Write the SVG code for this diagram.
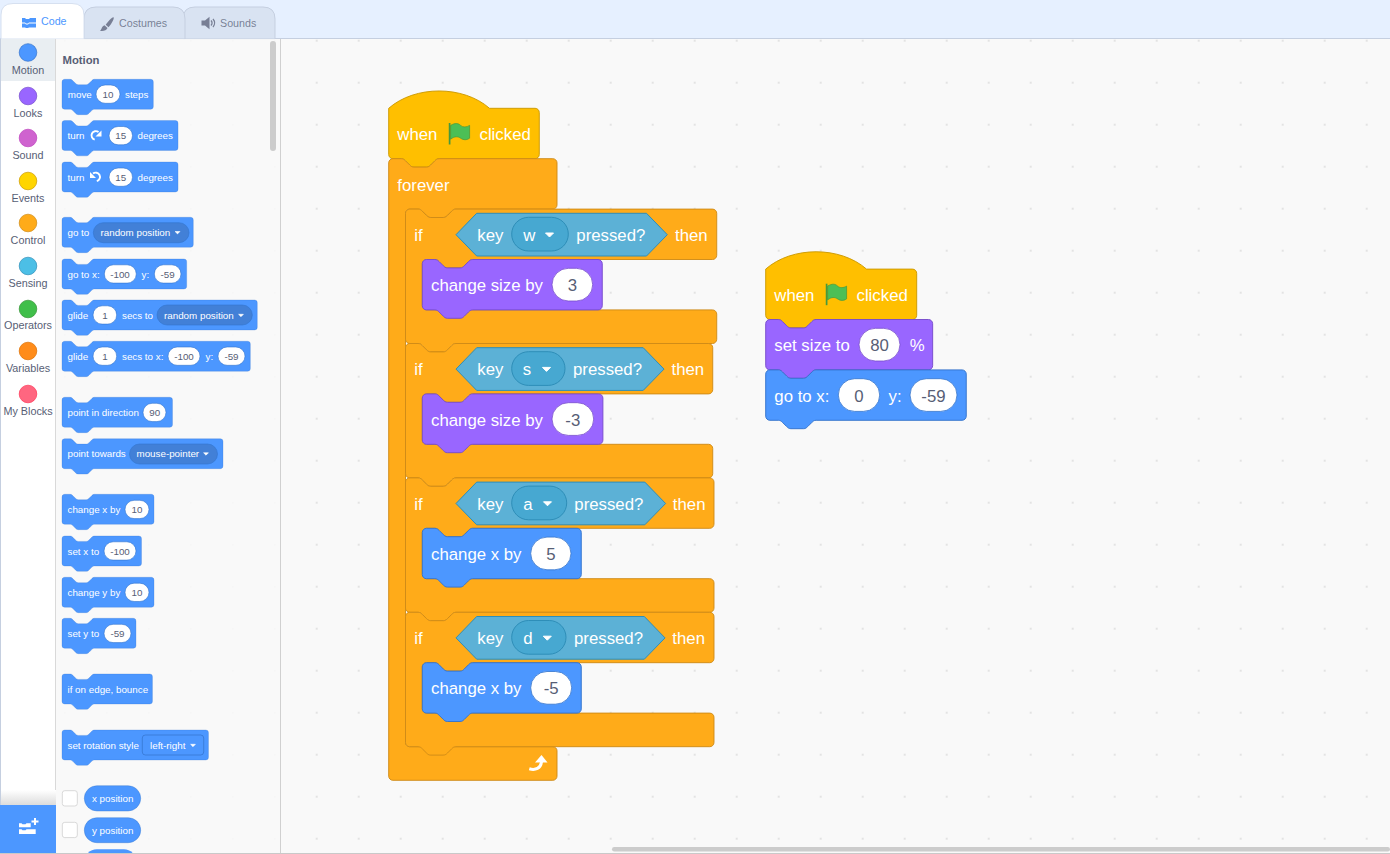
<svg xmlns="http://www.w3.org/2000/svg" xmlns:xlink="http://www.w3.org/1999/xlink" width="1390" height="854" viewBox="0 0 1390 854">
<style>
text{font-family:"Liberation Sans",Arial,sans-serif}
.w{font-size:16.8px;fill:#fff}
.wi{font-size:16.8px;fill:#575e75;text-anchor:middle}
.p{font-size:9.8px;fill:#fff}
.pi{font-size:9.8px;fill:#575e75;text-anchor:middle}
.cat{font-size:10.8px;fill:#575e75;text-anchor:middle}
.tab{font-size:10.7px;fill:#575e75;fill-opacity:.75}
.blue{fill:#4c97ff;stroke:#3373cc;stroke-width:.9}
.pblue{fill:#4c97ff;stroke:#3373cc;stroke-width:.7;stroke-opacity:.55}
.purple{fill:#9966ff;stroke:#774dcb;stroke-width:.9}
.orange{fill:#ffab19;stroke:#cf8b17;stroke-width:.9}
.hat{fill:#ffbf00;stroke:#cc9900;stroke-width:.9}
.hex{fill:#5cb1d6;stroke:#2e8eb8;stroke-width:1}
.dd{fill:#47a8d1;stroke:#2e8eb8;stroke-width:1}
.pdd{fill:#4280d7;stroke:#3373cc;stroke-width:.6}
.oval{fill:#fff;stroke:#3373cc;stroke-width:.6}
.ovalp{fill:#fff;stroke:#774dcb;stroke-width:.8}
.ovalb{fill:#fff;stroke:#3373cc;stroke-width:.8}
.tri{fill:#fff;stroke:#fff;stroke-linejoin:round}
</style>
<defs>
<pattern id="grid" x="14.7" y="32.7" width="42" height="42" patternUnits="userSpaceOnUse"><circle cx="8" cy="8" r="1" fill="#dcdcdc"/></pattern>
<linearGradient id="fade" x1="0" y1="0" x2="0" y2="1"><stop offset="0" stop-color="#fff"/><stop offset="1" stop-color="#dcdcdc"/></linearGradient>
<path id="tri" class="tri" d="M-4-2h8l-4 4z"/>
<g id="flag"><path d="M450.600 125.400c5-3 8-2 10 0s6 2 9 0v12.800c-3 2-6 2-9 0s-6-2-10 1z" fill="#4cbf56" stroke="#45993d" stroke-width=".7"/><path d="M449.600 123v21.500" stroke="#45993d" stroke-width="1.700" fill="none"/></g>
<g id="cw"><path d="M-1.800 3.600a4.300 4.300 0 1 1 3.800-7.500" fill="none" stroke="#fff" stroke-width="1.900" transform="translate(1 0)"/><path d="M6-5.500v6h-6z" fill="#fff"/></g>
</defs>
<rect width="1390" height="854" fill="#f9f9f9"/>
<rect x="56" y="39" width="1334" height="815" fill="url(#grid)"/>
<g id="topbar">
<rect width="1390" height="39" fill="#e6f0ff"/>
<path d="M0 38.500H1390" stroke="#c5cfe0" stroke-width="1"/>
</g>
<g id="tab-sounds"><path d="M183 39V19Q183 7 195 7H263Q275 7 275 19V39z" fill="#d9e3f2" stroke="#c5cfe0"/>
<path d="M201.500 20.500h3.500l4.500-3.800v12.600l-4.500-3.800h-3.500z" fill="#575e75" fill-opacity=".75"/><path d="M211 20.500a3.500 3.500 0 0 1 0 5M213 19a6 6 0 0 1 0 8" fill="none" stroke="#575e75" stroke-opacity=".75" stroke-width="1.300"/>
<text class="tab" x="220" y="27">Sounds</text></g>
<g id="tab-costumes"><path d="M84 39V19Q84 7 96 7H173Q185 7 185 19V39z" fill="#d9e3f2" stroke="#c5cfe0"/>
<path d="M113.500 17.300c1.200 .7-1.500 6.200-5 10l-2.800-2.500c2.500-3.500 6.500-8 7.800-7.500zM104.500 25.300l3 2.700c-.8 2.300-4.500 3.500-7.500 2.700 1.800-1 1.800-4.700 4.500-5.400z" fill="#575e75" fill-opacity=".75"/>
<text class="tab" x="119" y="27">Costumes</text></g>
<g id="tab-code"><path d="M1 39V15Q1 3.500 13 3.500H72Q84 3.500 84 15V39z" fill="#fff" stroke="#d6e0f0"/>
<path d="M22 18h3l1 1h3l1-1h6v4.500h-7l-1 1h-2l-1-1h-3zM22 23.500h3l1 1h2l1-1h7v4h-7l-1 .5h-2l-1-.5h-3z" fill="#4c97ff"/>
<text x="41" y="25" font-size="10.700" fill="#4c97ff">Code</text></g>
<g id="palette">
<rect x="56" y="39" width="224" height="815" fill="#f9f9f9" fill-opacity=".85"/>
<path d="M280.500 39V854" stroke="#d0d0d0"/>
<text x="62.500" y="64" font-size="11.300" font-weight="700" fill="#575e75">Motion</text>
<rect x="270" y="41" width="6" height="110" rx="3" fill="#ccc"/>
</g>
<g id="categories">
<rect x="1" y="39" width="54.500" height="815" fill="#fff"/>
<rect x="1" y="39" width="54.500" height="42" fill="#e9eef2"/>
<path d="M.5 39V854" stroke="#c5cfe0"/><path d="M55.500 39V854" stroke="#d9d9d9"/>
<g id="cat-motion"><circle cx="28" cy="52.500" r="8.800" fill="#4c97ff" stroke="#3373cc" stroke-width=".7"/><text class="cat" x="28" y="74">Motion</text></g>
<g id="cat-looks"><circle cx="28" cy="96" r="8.800" fill="#9966ff" stroke="#774dcb" stroke-width=".7"/><text class="cat" x="28" y="117">Looks</text></g>
<g id="cat-sound"><circle cx="28" cy="138" r="8.800" fill="#cf63cf" stroke="#bd42bd" stroke-width=".7"/><text class="cat" x="28" y="159">Sound</text></g>
<g id="cat-events"><circle cx="28" cy="181" r="8.800" fill="#ffd500" stroke="#cc9900" stroke-width=".7"/><text class="cat" x="28" y="202">Events</text></g>
<g id="cat-control"><circle cx="28" cy="223" r="8.800" fill="#ffab19" stroke="#cf8b17" stroke-width=".7"/><text class="cat" x="28" y="244">Control</text></g>
<g id="cat-sensing"><circle cx="28" cy="266" r="8.800" fill="#4cbfe6" stroke="#2e8eb8" stroke-width=".7"/><text class="cat" x="28" y="287">Sensing</text></g>
<g id="cat-operators"><circle cx="28" cy="309" r="8.800" fill="#40bf4a" stroke="#389438" stroke-width=".7"/><text class="cat" x="28" y="329">Operators</text></g>
<g id="cat-variables"><circle cx="28" cy="351" r="8.800" fill="#ff8c1a" stroke="#db6e00" stroke-width=".7"/><text class="cat" x="28" y="372">Variables</text></g>
<g id="cat-myblocks"><circle cx="28" cy="394" r="8.800" fill="#ff6680" stroke="#ff3355" stroke-width=".7"/><text class="cat" x="28" y="415">My Blocks</text></g>
<rect x="1" y="790" width="55" height="15" fill="url(#fade)"/>
<g id="extensions"><rect x="0" y="805" width="56" height="49" fill="#4c97ff"/>
<path d="M19 823.300h2.500l1 1h3l1-1h4.200v4h-11.700zM19 829.300h2.500l1 1h3l1-1h9.200v4.700h-16.700zM34 818h2v2.500h2.500v2h-2.500v2.500h-2v-2.500h-2.500v-2h2.500z" fill="#fff"/></g>
</g>
<g id="palette-blocks">
<g id="p-move"><path class="pblue" transform="translate(62 79.300) scale(.675)" d="M0 4a4 4 0 0 1 4-4h8c2 0 3 1 4 2l4 4c1 1 2 2 4 2h12c2 0 3-1 4-2l4-4c1-1 2-2 4-2H131.300a4 4 0 0 1 4 4V40.400a4 4 0 0 1-4 4H48c-2 0-3 1-4 2l-4 4c-1 1-2 2-4 2H24c-2 0-3-1-4-2l-4-4c-1-1-2-2-4-2H4a4 4 0 0 1-4-4z"/><text class="p" x="67.800" y="98.300">move</text><rect class="oval" x="96" y="85" width="24" height="18.300" rx="9.150"/><text class="pi" x="108" y="98">10</text><text class="p" x="125" y="98.300">steps</text></g>
<g id="p-turn-cw"><path class="pblue" transform="translate(62 120.500) scale(.675)" d="M0 4a4 4 0 0 1 4-4h8c2 0 3 1 4 2l4 4c1 1 2 2 4 2h12c2 0 3-1 4-2l4-4c1-1 2-2 4-2H167.900a4 4 0 0 1 4 4V40.400a4 4 0 0 1-4 4H48c-2 0-3 1-4 2l-4 4c-1 1-2 2-4 2H24c-2 0-3-1-4-2l-4-4c-1-1-2-2-4-2H4a4 4 0 0 1-4-4z"/><text class="p" x="67.500" y="139.300">turn</text><use href="#cw" xlink:href="#cw" transform="translate(95.500 136)"/><rect class="oval" x="109" y="126.500" width="23.500" height="18.300" rx="9.150"/><text class="pi" x="120.700" y="139">15</text><text class="p" x="137.500" y="139.300">degrees</text></g>
<g id="p-turn-ccw"><path class="pblue" transform="translate(62 162) scale(.675)" d="M0 4a4 4 0 0 1 4-4h8c2 0 3 1 4 2l4 4c1 1 2 2 4 2h12c2 0 3-1 4-2l4-4c1-1 2-2 4-2H167.900a4 4 0 0 1 4 4V40.400a4 4 0 0 1-4 4H48c-2 0-3 1-4 2l-4 4c-1 1-2 2-4 2H24c-2 0-3-1-4-2l-4-4c-1-1-2-2-4-2H4a4 4 0 0 1-4-4z"/><text class="p" x="67.500" y="181">turn</text><use href="#cw" xlink:href="#cw" transform="translate(96 177.500) scale(-1 1)"/><rect class="oval" x="109" y="168" width="23.500" height="18.300" rx="9.150"/><text class="pi" x="120.700" y="180.800">15</text><text class="p" x="137.500" y="181">degrees</text></g>
<g id="p-goto"><path class="pblue" transform="translate(62 217.300) scale(.675)" d="M0 4a4 4 0 0 1 4-4h8c2 0 3 1 4 2l4 4c1 1 2 2 4 2h12c2 0 3-1 4-2l4-4c1-1 2-2 4-2H190.500a4 4 0 0 1 4 4V40.400a4 4 0 0 1-4 4H48c-2 0-3 1-4 2l-4 4c-1 1-2 2-4 2H24c-2 0-3-1-4-2l-4-4c-1-1-2-2-4-2H4a4 4 0 0 1-4-4z"/><text class="p" x="67.500" y="236">go to</text><rect class="pdd" x="93.300" y="222.700" width="95.700" height="20" rx="10"/><text class="p" x="100.500" y="236">random position</text><use href="#tri" xlink:href="#tri" transform="translate(177.500 232.700) scale(.6)"/></g>
<g id="p-gotoxy"><path class="pblue" transform="translate(62 259) scale(.675)" d="M0 4a4 4 0 0 1 4-4h8c2 0 3 1 4 2l4 4c1 1 2 2 4 2h12c2 0 3-1 4-2l4-4c1-1 2-2 4-2H180.700a4 4 0 0 1 4 4V40.400a4 4 0 0 1-4 4H48c-2 0-3 1-4 2l-4 4c-1 1-2 2-4 2H24c-2 0-3-1-4-2l-4-4c-1-1-2-2-4-2H4a4 4 0 0 1-4-4z"/><text class="p" x="67.500" y="278">go to x:</text><rect class="oval" x="104.300" y="264.800" width="32" height="18.300" rx="9.150"/><text class="pi" x="120" y="278">-100</text><text class="p" x="141.500" y="278">y:</text><rect class="oval" x="154.300" y="264.800" width="26.700" height="18.300" rx="9.150"/><text class="pi" x="167.600" y="278">-59</text></g>
<g id="p-glide"><path class="pblue" transform="translate(62 300) scale(.675)" d="M0 4a4 4 0 0 1 4-4h8c2 0 3 1 4 2l4 4c1 1 2 2 4 2h12c2 0 3-1 4-2l4-4c1-1 2-2 4-2H285.300a4 4 0 0 1 4 4V40.400a4 4 0 0 1-4 4H48c-2 0-3 1-4 2l-4 4c-1 1-2 2-4 2H24c-2 0-3-1-4-2l-4-4c-1-1-2-2-4-2H4a4 4 0 0 1-4-4z"/><text class="p" x="67.500" y="319">glide</text><rect class="oval" x="93" y="305.800" width="23.700" height="18.300" rx="9.150"/><text class="pi" x="105" y="319">1</text><text class="p" x="122" y="319">secs to</text><rect class="pdd" x="157" y="305" width="95.300" height="20" rx="10"/><text class="p" x="164" y="319">random position</text><use href="#tri" xlink:href="#tri" transform="translate(241 315.500) scale(.6)"/></g>
<g id="p-glidexy"><path class="pblue" transform="translate(62 341.300) scale(.675)" d="M0 4a4 4 0 0 1 4-4h8c2 0 3 1 4 2l4 4c1 1 2 2 4 2h12c2 0 3-1 4-2l4-4c1-1 2-2 4-2H275a4 4 0 0 1 4 4V40.400a4 4 0 0 1-4 4H48c-2 0-3 1-4 2l-4 4c-1 1-2 2-4 2H24c-2 0-3-1-4-2l-4-4c-1-1-2-2-4-2H4a4 4 0 0 1-4-4z"/><text class="p" x="67.500" y="360">glide</text><rect class="oval" x="93" y="347" width="23.700" height="18.300" rx="9.150"/><text class="pi" x="105" y="360">1</text><text class="p" x="122" y="360">secs to x:</text><rect class="oval" x="168" y="347" width="32" height="18.300" rx="9.150"/><text class="pi" x="184" y="360">-100</text><text class="p" x="205.500" y="360">y:</text><rect class="oval" x="218" y="347" width="27" height="18.300" rx="9.150"/><text class="pi" x="231.500" y="360">-59</text></g>
<g id="p-pointdir"><path class="pblue" transform="translate(62 397.300) scale(.675)" d="M0 4a4 4 0 0 1 4-4h8c2 0 3 1 4 2l4 4c1 1 2 2 4 2h12c2 0 3-1 4-2l4-4c1-1 2-2 4-2H159.700a4 4 0 0 1 4 4V40.400a4 4 0 0 1-4 4H48c-2 0-3 1-4 2l-4 4c-1 1-2 2-4 2H24c-2 0-3-1-4-2l-4-4c-1-1-2-2-4-2H4a4 4 0 0 1-4-4z"/><text class="p" x="67.500" y="416">point in direction</text><rect class="oval" x="143" y="403.300" width="23" height="18.300" rx="9.150"/><text class="pi" x="154.800" y="416">90</text></g>
<g id="p-pointto"><path class="pblue" transform="translate(62 438.700) scale(.675)" d="M0 4a4 4 0 0 1 4-4h8c2 0 3 1 4 2l4 4c1 1 2 2 4 2h12c2 0 3-1 4-2l4-4c1-1 2-2 4-2H234.500a4 4 0 0 1 4 4V40.400a4 4 0 0 1-4 4H48c-2 0-3 1-4 2l-4 4c-1 1-2 2-4 2H24c-2 0-3-1-4-2l-4-4c-1-1-2-2-4-2H4a4 4 0 0 1-4-4z"/><text class="p" x="67.500" y="457.300">point towards</text><rect class="pdd" x="129.500" y="444" width="88" height="20" rx="10"/><text class="p" x="136.500" y="457.300">mouse-pointer</text><use href="#tri" xlink:href="#tri" transform="translate(206 454) scale(.6)"/></g>
<g id="p-changex"><path class="pblue" transform="translate(62 494.300) scale(.675)" d="M0 4a4 4 0 0 1 4-4h8c2 0 3 1 4 2l4 4c1 1 2 2 4 2h12c2 0 3-1 4-2l4-4c1-1 2-2 4-2H132.300a4 4 0 0 1 4 4V40.400a4 4 0 0 1-4 4H48c-2 0-3 1-4 2l-4 4c-1 1-2 2-4 2H24c-2 0-3-1-4-2l-4-4c-1-1-2-2-4-2H4a4 4 0 0 1-4-4z"/><text class="p" x="67.500" y="513.300">change x by</text><rect class="oval" x="125" y="500.300" width="24" height="18.300" rx="9.150"/><text class="pi" x="137" y="513.300">10</text></g>
<g id="p-setx"><path class="pblue" transform="translate(62 536) scale(.675)" d="M0 4a4 4 0 0 1 4-4h8c2 0 3 1 4 2l4 4c1 1 2 2 4 2h12c2 0 3-1 4-2l4-4c1-1 2-2 4-2H113.800a4 4 0 0 1 4 4V40.400a4 4 0 0 1-4 4H48c-2 0-3 1-4 2l-4 4c-1 1-2 2-4 2H24c-2 0-3-1-4-2l-4-4c-1-1-2-2-4-2H4a4 4 0 0 1-4-4z"/><text class="p" x="67.500" y="555">set x to</text><rect class="oval" x="104" y="541.800" width="32" height="18.300" rx="9.150"/><text class="pi" x="120" y="555">-100</text></g>
<g id="p-changey"><path class="pblue" transform="translate(62 577.300) scale(.675)" d="M0 4a4 4 0 0 1 4-4h8c2 0 3 1 4 2l4 4c1 1 2 2 4 2h12c2 0 3-1 4-2l4-4c1-1 2-2 4-2H132.300a4 4 0 0 1 4 4V40.400a4 4 0 0 1-4 4H48c-2 0-3 1-4 2l-4 4c-1 1-2 2-4 2H24c-2 0-3-1-4-2l-4-4c-1-1-2-2-4-2H4a4 4 0 0 1-4-4z"/><text class="p" x="67.500" y="596.300">change y by</text><rect class="oval" x="125" y="583.200" width="24" height="18.300" rx="9.150"/><text class="pi" x="137" y="596.300">10</text></g>
<g id="p-sety"><path class="pblue" transform="translate(62 618.300) scale(.675)" d="M0 4a4 4 0 0 1 4-4h8c2 0 3 1 4 2l4 4c1 1 2 2 4 2h12c2 0 3-1 4-2l4-4c1-1 2-2 4-2H105.600a4 4 0 0 1 4 4V40.400a4 4 0 0 1-4 4H48c-2 0-3 1-4 2l-4 4c-1 1-2 2-4 2H24c-2 0-3-1-4-2l-4-4c-1-1-2-2-4-2H4a4 4 0 0 1-4-4z"/><text class="p" x="67.500" y="637.300">set y to</text><rect class="oval" x="104" y="624.300" width="27" height="18.300" rx="9.150"/><text class="pi" x="117.500" y="637.300">-59</text></g>
<g id="p-bounce"><path class="pblue" transform="translate(62 674) scale(.675)" d="M0 4a4 4 0 0 1 4-4h8c2 0 3 1 4 2l4 4c1 1 2 2 4 2h12c2 0 3-1 4-2l4-4c1-1 2-2 4-2H130a4 4 0 0 1 4 4V40.400a4 4 0 0 1-4 4H48c-2 0-3 1-4 2l-4 4c-1 1-2 2-4 2H24c-2 0-3-1-4-2l-4-4c-1-1-2-2-4-2H4a4 4 0 0 1-4-4z"/><text class="p" x="67.500" y="693.300">if on edge, bounce</text></g>
<g id="p-rotation"><path class="pblue" transform="translate(62 730) scale(.675)" d="M0 4a4 4 0 0 1 4-4h8c2 0 3 1 4 2l4 4c1 1 2 2 4 2h12c2 0 3-1 4-2l4-4c1-1 2-2 4-2H213a4 4 0 0 1 4 4V40.400a4 4 0 0 1-4 4H48c-2 0-3 1-4 2l-4 4c-1 1-2 2-4 2H24c-2 0-3-1-4-2l-4-4c-1-1-2-2-4-2H4a4 4 0 0 1-4-4z"/><text class="p" x="67.500" y="749.300">set rotation style</text><rect x="142.300" y="735" width="61.400" height="20" rx="3" fill="#4c97ff" stroke="#3373cc" stroke-width=".7"/><text class="p" x="150" y="749.300">left-right</text><use href="#tri" xlink:href="#tri" transform="translate(193 745.500) scale(.6)"/></g>
<g id="p-xpos"><rect x="62.300" y="790.700" width="15" height="15.300" rx="2.500" fill="#fff" stroke="#d9d9d9"/><rect x="84.300" y="785.700" width="56.400" height="25.300" rx="12.650" fill="#4c97ff" stroke="#3373cc" stroke-width=".4"/><text class="p" x="92" y="802">x position</text></g>
<g id="p-ypos"><rect x="62.300" y="822.300" width="15" height="15.300" rx="2.500" fill="#fff" stroke="#d9d9d9"/><rect x="84.300" y="817.700" width="56.400" height="25" rx="12.500" fill="#4c97ff" stroke="#3373cc" stroke-width=".4"/><text class="p" x="92" y="834">y position</text></g>
<g id="p-dir"><rect x="84.300" y="849.300" width="52" height="25" rx="12.500" fill="#4c97ff"/></g>
<rect x="0" y="853" width="281" height="1" fill="#c9c9c9"/>
</g>
<g id="connectors"></g>
<g id="stack-1">
<g id="hat-1"><path class="hat" transform="translate(388.700 91.500) scale(1.05)" d="M0 16c25-22 71-22 96 0H139.400a4 4 0 0 1 4 4V60a4 4 0 0 1-4 4H48c-2 0-3 1-4 2l-4 4c-1 1-2 2-4 2H24c-2 0-3-1-4-2l-4-4c-1-1-2-2-4-2H4a4 4 0 0 1-4-4z"/><text class="w" x="397.300" y="140">when</text><use href="#flag" xlink:href="#flag"/><text class="w" x="479.500" y="140">clicked</text></g>
<g id="forever"><path class="orange" transform="translate(388.700 158.700) scale(1.05)" d="M0 4a4 4 0 0 1 4-4h8c2 0 3 1 4 2l4 4c1 1 2 2 4 2h12c2 0 3-1 4-2l4-4c1-1 2-2 4-2H156.300a4 4 0 0 1 4 4V44a4 4 0 0 1-4 4H64c-2 0-3 1-4 2l-4 4c-1 1-2 2-4 2H40c-2 0-3-1-4-2l-4-4c-1-1-2-2-4-2H20a4 4 0 0 0-4 4V556a4 4 0 0 0 4 4H156.300a4 4 0 0 1 4 4V588a4 4 0 0 1-4 4H4a4 4 0 0 1-4-4z"/><text class="w" x="397.300" y="191">forever</text><path d="M529.300 768.800c6 1.700 11.700-.3 12.200-7.300" fill="none" stroke="#fff" stroke-width="3"/><path d="M535 762.500l6.500-7.500 6 7.500z" fill="#fff"/></g>
<g id="if-w"><path class="orange" transform="translate(405.500 209.100) scale(1.05)" d="M0 4a4 4 0 0 1 4-4h8c2 0 3 1 4 2l4 4c1 1 2 2 4 2h12c2 0 3-1 4-2l4-4c1-1 2-2 4-2H292.400a4 4 0 0 1 4 4V44a4 4 0 0 1-4 4H64c-2 0-3 1-4 2l-4 4c-1 1-2 2-4 2H40c-2 0-3-1-4-2l-4-4c-1-1-2-2-4-2H20a4 4 0 0 0-4 4V92a4 4 0 0 0 4 4H292.400a4 4 0 0 1 4 4V124a4 4 0 0 1-4 4H48c-2 0-3 1-4 2l-4 4c-1 1-2 2-4 2H24c-2 0-3-1-4-2l-4-4c-1-1-2-2-4-2H4a4 4 0 0 1-4-4z"/><text class="w" x="414.300" y="241">if</text>
<path class="hex" d="M476.700 213.300H646.500L667.300 234.700 646.500 256H476.700L456 234.700z"/><text class="w" x="477.300" y="241">key</text><rect class="dd" x="511.700" y="217.300" width="56.600" height="33.700" rx="16.800"/><text class="w" x="523.300" y="241">w</text><use href="#tri" xlink:href="#tri" transform="translate(549.500 235)"/><text class="w" x="576.300" y="241">pressed?</text><text class="w" x="675" y="241">then</text></g>
<g id="size-up"><path class="purple" transform="translate(422.300 259.500) scale(1.05)" d="M0 4a4 4 0 0 1 4-4h8c2 0 3 1 4 2l4 4c1 1 2 2 4 2h12c2 0 3-1 4-2l4-4c1-1 2-2 4-2H167.400a4 4 0 0 1 4 4V44a4 4 0 0 1-4 4H48c-2 0-3 1-4 2l-4 4c-1 1-2 2-4 2H24c-2 0-3-1-4-2l-4-4c-1-1-2-2-4-2H4a4 4 0 0 1-4-4z"/><text class="w" x="431" y="291">change size by</text><rect class="ovalp" x="552" y="268.300" width="40.700" height="32.700" rx="16.300"/><text class="wi" x="572.300" y="291">3</text></g>
<g id="if-s"><path class="orange" transform="translate(405.500 343.500) scale(1.05)" d="M0 4a4 4 0 0 1 4-4h8c2 0 3 1 4 2l4 4c1 1 2 2 4 2h12c2 0 3-1 4-2l4-4c1-1 2-2 4-2H288.600a4 4 0 0 1 4 4V44a4 4 0 0 1-4 4H64c-2 0-3 1-4 2l-4 4c-1 1-2 2-4 2H40c-2 0-3-1-4-2l-4-4c-1-1-2-2-4-2H20a4 4 0 0 0-4 4V92a4 4 0 0 0 4 4H288.600a4 4 0 0 1 4 4V124a4 4 0 0 1-4 4H48c-2 0-3 1-4 2l-4 4c-1 1-2 2-4 2H24c-2 0-3-1-4-2l-4-4c-1-1-2-2-4-2H4a4 4 0 0 1-4-4z"/><text class="w" x="414.300" y="375.400">if</text>
<path class="hex" d="M476.700 347.700H643.200L664 369.100 643.200 390.400H476.700L456 369.100z"/><text class="w" x="477.300" y="375.400">key</text><rect class="dd" x="511.700" y="351.700" width="53.300" height="33.700" rx="16.800"/><text class="w" x="522.800" y="375.400">s</text><use href="#tri" xlink:href="#tri" transform="translate(546.500 369.400)"/><text class="w" x="573" y="375.400">pressed?</text><text class="w" x="671.500" y="375.400">then</text></g>
<g id="size-down"><path class="purple" transform="translate(422.300 393.900) scale(1.05)" d="M0 4a4 4 0 0 1 4-4h8c2 0 3 1 4 2l4 4c1 1 2 2 4 2h12c2 0 3-1 4-2l4-4c1-1 2-2 4-2H168a4 4 0 0 1 4 4V44a4 4 0 0 1-4 4H48c-2 0-3 1-4 2l-4 4c-1 1-2 2-4 2H24c-2 0-3-1-4-2l-4-4c-1-1-2-2-4-2H4a4 4 0 0 1-4-4z"/><text class="w" x="431" y="426">change size by</text><rect class="ovalp" x="552" y="402.700" width="41.700" height="32.700" rx="16.300"/><text class="wi" x="572.800" y="426">-3</text></g>
<g id="if-a"><path class="orange" transform="translate(405.500 477.900) scale(1.05)" d="M0 4a4 4 0 0 1 4-4h8c2 0 3 1 4 2l4 4c1 1 2 2 4 2h12c2 0 3-1 4-2l4-4c1-1 2-2 4-2H289.800a4 4 0 0 1 4 4V44a4 4 0 0 1-4 4H64c-2 0-3 1-4 2l-4 4c-1 1-2 2-4 2H40c-2 0-3-1-4-2l-4-4c-1-1-2-2-4-2H20a4 4 0 0 0-4 4V92a4 4 0 0 0 4 4H289.800a4 4 0 0 1 4 4V124a4 4 0 0 1-4 4H48c-2 0-3 1-4 2l-4 4c-1 1-2 2-4 2H24c-2 0-3-1-4-2l-4-4c-1-1-2-2-4-2H4a4 4 0 0 1-4-4z"/><text class="w" x="414.300" y="509.800">if</text>
<path class="hex" d="M476.700 482.100H644.800L665.600 503.500 644.800 524.800H476.700L456 503.500z"/><text class="w" x="477.300" y="509.800">key</text><rect class="dd" x="511.700" y="486.100" width="55" height="33.700" rx="16.800"/><text class="w" x="523.300" y="509.800">a</text><use href="#tri" xlink:href="#tri" transform="translate(547.500 503.800)"/><text class="w" x="574.300" y="509.800">pressed?</text><text class="w" x="672.800" y="509.800">then</text></g>
<g id="move-right"><path class="blue" transform="translate(422.300 528.300) scale(1.05)" d="M0 4a4 4 0 0 1 4-4h8c2 0 3 1 4 2l4 4c1 1 2 2 4 2h12c2 0 3-1 4-2l4-4c1-1 2-2 4-2H147.400a4 4 0 0 1 4 4V44a4 4 0 0 1-4 4H48c-2 0-3 1-4 2l-4 4c-1 1-2 2-4 2H24c-2 0-3-1-4-2l-4-4c-1-1-2-2-4-2H4a4 4 0 0 1-4-4z"/><text class="w" x="431" y="559.800">change x by</text><rect class="ovalb" x="530.700" y="537.100" width="40.300" height="32.700" rx="16.300"/><text class="wi" x="550.800" y="559.800">5</text></g>
<g id="if-d"><path class="orange" transform="translate(405.500 612.300) scale(1.05)" d="M0 4a4 4 0 0 1 4-4h8c2 0 3 1 4 2l4 4c1 1 2 2 4 2h12c2 0 3-1 4-2l4-4c1-1 2-2 4-2H289.800a4 4 0 0 1 4 4V44a4 4 0 0 1-4 4H64c-2 0-3 1-4 2l-4 4c-1 1-2 2-4 2H40c-2 0-3-1-4-2l-4-4c-1-1-2-2-4-2H20a4 4 0 0 0-4 4V92a4 4 0 0 0 4 4H289.800a4 4 0 0 1 4 4V124a4 4 0 0 1-4 4H48c-2 0-3 1-4 2l-4 4c-1 1-2 2-4 2H24c-2 0-3-1-4-2l-4-4c-1-1-2-2-4-2H4a4 4 0 0 1-4-4z"/><text class="w" x="414.300" y="644.200">if</text>
<path class="hex" d="M476.700 616.500H644.300L665 637.900 644.300 659.200H476.700L456 637.900z"/><text class="w" x="477.300" y="644.200">key</text><rect class="dd" x="511.700" y="620.500" width="54.300" height="33.700" rx="16.800"/><text class="w" x="523.300" y="644.200">d</text><use href="#tri" xlink:href="#tri" transform="translate(547.300 638.200)"/><text class="w" x="574" y="644.200">pressed?</text><text class="w" x="672.300" y="644.200">then</text></g>
<g id="move-left"><path class="blue" transform="translate(422.300 662.700) scale(1.05)" d="M0 4a4 4 0 0 1 4-4h8c2 0 3 1 4 2l4 4c1 1 2 2 4 2h12c2 0 3-1 4-2l4-4c1-1 2-2 4-2H147.400a4 4 0 0 1 4 4V44a4 4 0 0 1-4 4H48c-2 0-3 1-4 2l-4 4c-1 1-2 2-4 2H24c-2 0-3-1-4-2l-4-4c-1-1-2-2-4-2H4a4 4 0 0 1-4-4z"/><text class="w" x="431" y="694.200">change x by</text><rect class="ovalb" x="530.700" y="671.500" width="41" height="32.700" rx="16.300"/><text class="wi" x="551.200" y="694.200">-5</text></g>
</g>
<g id="stack-2">
<g id="hat-2"><path class="hat" transform="translate(765.700 252.300) scale(1.05)" d="M0 16c25-22 71-22 96 0H139.800a4 4 0 0 1 4 4V60a4 4 0 0 1-4 4H48c-2 0-3 1-4 2l-4 4c-1 1-2 2-4 2H24c-2 0-3-1-4-2l-4-4c-1-1-2-2-4-2H4a4 4 0 0 1-4-4z"/><text class="w" x="774.300" y="301">when</text><use href="#flag" xlink:href="#flag" transform="translate(377 160.700)"/><text class="w" x="856.500" y="301">clicked</text></g>
<g id="set-size"><path class="purple" transform="translate(765.700 319.500) scale(1.05)" d="M0 4a4 4 0 0 1 4-4h8c2 0 3 1 4 2l4 4c1 1 2 2 4 2h12c2 0 3-1 4-2l4-4c1-1 2-2 4-2H155a4 4 0 0 1 4 4V44a4 4 0 0 1-4 4H48c-2 0-3 1-4 2l-4 4c-1 1-2 2-4 2H24c-2 0-3-1-4-2l-4-4c-1-1-2-2-4-2H4a4 4 0 0 1-4-4z"/><text class="w" x="774.300" y="351">set size to</text><rect class="ovalp" x="859" y="328.300" width="41" height="32.700" rx="16.300"/><text class="wi" x="879.500" y="351">80</text><text class="w" x="909.700" y="351">%</text></g>
<g id="go-to"><path class="blue" transform="translate(765.700 369.900) scale(1.05)" d="M0 4a4 4 0 0 1 4-4h8c2 0 3 1 4 2l4 4c1 1 2 2 4 2h12c2 0 3-1 4-2l4-4c1-1 2-2 4-2H187a4 4 0 0 1 4 4V44a4 4 0 0 1-4 4H48c-2 0-3 1-4 2l-4 4c-1 1-2 2-4 2H24c-2 0-3-1-4-2l-4-4c-1-1-2-2-4-2H4a4 4 0 0 1-4-4z"/><text class="w" x="774.300" y="401.700">go to x:</text><rect class="ovalb" x="838.300" y="378.700" width="41.400" height="32.700" rx="16.300"/><text class="wi" x="859" y="401.700">0</text><text class="w" x="888.500" y="401.700">y:</text><rect class="ovalb" x="910" y="378.700" width="47" height="32.700" rx="16.300"/><text class="wi" x="933.500" y="401.700">-59</text></g>
</g>
<rect id="scrollbar" x="612" y="847" width="778" height="4.500" rx="2.200" fill="#ccc"/>
<path d="M281 853.500H1390" stroke="#c9c9c9"/>
</svg>
